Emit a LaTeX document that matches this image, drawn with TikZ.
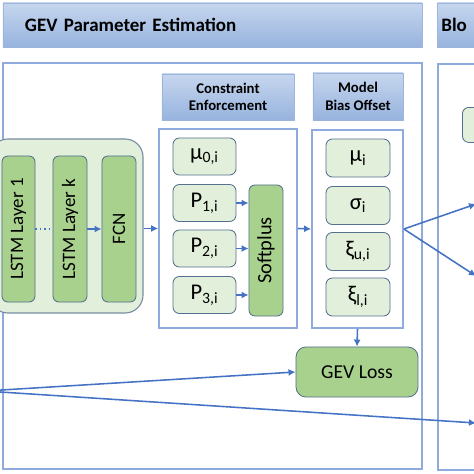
\documentclass[tikz,border=0pt]{standalone}
\usepackage{fontspec}
\setmainfont{Carlito}
\usepackage{tikz}
\usetikzlibrary{arrows.meta,positioning}
\definecolor{HdrTop}{HTML}{C6D6EE}
\definecolor{HdrBot}{HTML}{97B3DE}
\definecolor{HdrLine}{HTML}{9DB4DC}
\definecolor{PanelLine}{HTML}{8FAADC}
\definecolor{BoxLine}{HTML}{56708F}
\definecolor{LightGreen}{HTML}{E2EFDA}
\definecolor{MidGreen}{HTML}{A9D18E}
\definecolor{FlowBlue}{HTML}{4472C4}
\tikzset{
hdrbox/.style={draw=HdrLine, semithick, top color=HdrTop, bottom color=HdrBot, align=center, inner sep=0pt, font=\bfseries\fontsize{10.5}{12.5}\selectfont},
panelbox/.style={draw=PanelLine, line width=1.2pt, fill=none, inner sep=0pt},
groupbox/.style={draw=BoxLine!80, thick, rounded corners=4.5mm, fill=LightGreen, inner sep=0pt},
parambox/.style={draw=BoxLine, semithick, rounded corners=1.6mm, fill=LightGreen, inner sep=0pt, minimum width=1.575cm, minimum height=0.925cm, font=\fontsize{16}{18}\selectfont},
layerbox/.style={draw=BoxLine, semithick, rounded corners=1.5mm, fill=MidGreen, inner sep=0pt, rotate=90, font=\fontsize{13.5}{15}\selectfont},
lossbox/.style={draw=BoxLine, semithick, rounded corners=2.5mm, fill=MidGreen, inner sep=0pt, font=\fontsize{14}{16}\selectfont},
flowarrow/.style={-{Latex[length=5pt,width=5pt]}, line width=1.1pt, draw=FlowBlue},
flowdots/.style={line width=1.1pt, dotted, draw=FlowBlue}
}
\begin{document}
\begin{tikzpicture}[x=0.025cm, y=-0.025cm]
  \useasboundingbox (0,0) rectangle (474,474);
  \clip (0,0) rectangle (474,474);
  % section headers and panels
  \node[hdrbox, minimum width=10.475cm, minimum height=1.1cm, text width=9.375cm, inner xsep=0.55cm, align=left, font=\bfseries\fontsize{13.5}{15}\selectfont] (hdrA) at (212.5,25) {GEV Parameter Estimation};
  \node[hdrbox, anchor=west, minimum height=1.1cm, text width=1.4cm, inner xsep=0.1cm, align=left, font=\bfseries\fontsize{13.5}{15}\selectfont] (hdrB) at (437,25) {Blo};
  \node[panelbox, minimum width=10.475cm, minimum height=10.15cm] (panelA) at (212.5,266) {};
  \node[panelbox, anchor=north west, minimum width=2cm, minimum height=10.15cm] (panelB) at (437,63) {};
  \node[parambox, anchor=north west, minimum width=1.2cm, minimum height=0.875cm] (nextbox) at (462,107) {};
  % recurrent part
  \node[groupbox, minimum width=3.825cm, minimum height=4.35cm] (lstmgrp) at (66.5,226) {};
  \node[layerbox, minimum width=3.65cm, minimum height=0.825cm] (lstm1) at (18.5,229) {LSTM Layer 1};
  \node[layerbox, minimum width=3.65cm, minimum height=0.85cm] (lstmk) at (70,229) {LSTM Layer k};
  \node[layerbox, minimum width=3.65cm, minimum height=0.85cm] (fcn) at (119,229) {FCN};
  \draw[flowdots] (lstm1.south) -- (lstmk.north);
  \draw[flowarrow] (lstmk.south) -- (fcn.north);
  % constraint enforcement
  \node[hdrbox, minimum width=3.3cm, minimum height=1.15cm] (hdrC) at (228,97) {Constraint\\Enforcement};
  \node[panelbox, minimum width=3.45cm, minimum height=4.975cm] (conBox) at (228,228.5) {};
  \node[parambox] (mu0) at (204.5,156.5) {μ\textsubscript{0,i}};
  \node[parambox] (p1) at (204.5,203) {P\textsubscript{1,i}};
  \node[parambox] (p2) at (204.5,248.5) {P\textsubscript{2,i}};
  \node[parambox] (p3) at (204.5,295) {P\textsubscript{3,i}};
  \node[layerbox, minimum width=3.275cm, minimum height=0.85cm, font=\fontsize{14.5}{16}\selectfont] (softplus) at (266,250.5) {Softplus};
  \draw[flowarrow] (p1.east) -- (p1.east -| softplus.north);
  \draw[flowarrow] (p2.east) -- (p2.east -| softplus.north);
  \draw[flowarrow] (p3.east) -- (p3.east -| softplus.north);
  \draw[flowarrow] (lstmgrp.east |- conBox.west) -- (conBox.west);
  % model bias offset
  \node[hdrbox, minimum width=2.25cm, minimum height=1.175cm] (hdrD) at (358,96.5) {Model\\Bias Offset};
  \node[panelbox, minimum width=2.275cm, minimum height=4.95cm] (biasBox) at (357.5,229) {};
  \node[parambox, minimum width=1.6cm, minimum height=0.95cm] (mu) at (358,158) {μ\textsubscript{i}};
  \node[parambox, minimum width=1.6cm, minimum height=0.95cm] (sigma) at (358,205.5) {σ\textsubscript{i}};
  \node[parambox, minimum width=1.6cm, minimum height=0.95cm] (xiu) at (358,251.5) {ξ\textsubscript{u,i}};
  \node[parambox, minimum width=1.6cm, minimum height=0.95cm] (xil) at (358,297) {ξ\textsubscript{l,i}};
  \draw[flowarrow] (conBox.east) -- (biasBox.west);
  % loss and outputs
  \node[lossbox, minimum width=3.05cm, minimum height=1.25cm] (gev) at (357,372) {GEV Loss};
  \draw[flowarrow] (biasBox.south) -- (gev.north);
  \coordinate (outA) at (476,204);
  \coordinate (outB) at (476,276);
  \coordinate (obs) at (-15,391);
  \coordinate (outC) at (476,423);
  \draw[flowarrow] (biasBox.east) -- (outA);
  \draw[flowarrow] (biasBox.east) -- (outB);
  \draw[flowarrow] (obs) -- (gev.west);
  \draw[flowarrow] (obs) -- (outC);
\end{tikzpicture}
\end{document}
